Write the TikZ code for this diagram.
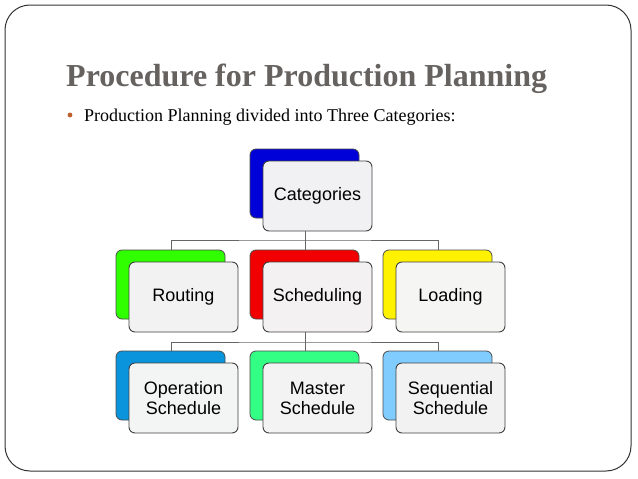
\documentclass[tikz,border=0pt]{standalone}
\usepackage{fontspec}
\setmainfont{Liberation Serif}
\newfontfamily\boxfont{Liberation Sans}
\definecolor{titlegray}{HTML}{666260}
\definecolor{bulletc}{HTML}{C0602E}
\begin{document}
\begin{tikzpicture}[x=1pt,y=-1pt,
  backbox/.style={draw=black!70, line width=0.8pt, rounded corners=6pt},
  frontbox/.style={draw=black!75, line width=0.9pt, rounded corners=6pt, minimum width=109pt, minimum height=70pt, align=center, font=\boxfont\fontsize{18}{20}\selectfont, inner sep=0pt},
  conn/.style={draw=black!60, line width=0.6pt}]
\useasboundingbox (0,0) rectangle (638,479);
\fill[white] (0,0) rectangle (638,479);
\draw[black!80, line width=1pt, rounded corners=25pt] (5,5) rectangle (631,471);
\node[anchor=base west, text=titlegray, font=\bfseries\fontsize{32}{36}\selectfont, inner sep=0pt] (title) at (66,86) {Procedure for Production Planning};
\fill[bulletc] (70,115) circle (2.4pt);
\node[anchor=base west, font=\fontsize{18}{21}\selectfont, inner sep=0pt] (sub) at (84,121) {Production Planning divided into Three Categories:};
\newcommand\cell[6]{%
  \draw[backbox, fill=#4] (#1-13,#2-12) rectangle ++(109,69);
  \node[frontbox, fill=#5] (#6) at (#1+54.5,#2+35) {#3};}
\cell{263}{161}{Categories}{blue!85!black}{blue!6!gray!10}{cat}
\cell{129}{262}{Routing}{green!75!lime}{gray!10}{rout}
\cell{263}{262}{Scheduling}{red!95!black}{red!6!gray!10}{sched}
\cell{396}{262}{Loading}{yellow}{yellow!8!gray!10}{load}
\cell{129}{363}{Operation\\Schedule}{cyan!80!blue}{cyan!4!gray!10}{op}
\cell{263}{363}{Master\\Schedule}{green!60!cyan!80}{green!5!gray!10}{mast}
\cell{396}{363}{Sequential\\Schedule}{blue!40!cyan!50}{blue!4!gray!10}{seq}
\coordinate (h1) at (305,240);
\draw[conn] (cat.south -| h1) -- (h1);
\draw[conn] (171,250) |- (h1) -| (438,250);
\draw[conn] (h1) -- (305,250);
\coordinate (h2) at (305,342);
\draw[conn] (sched.south -| h2) -- (h2);
\draw[conn] (171,351) |- (h2) -| (438,351);
\draw[conn] (h2) -- (305,351);
\end{tikzpicture}
\end{document}
